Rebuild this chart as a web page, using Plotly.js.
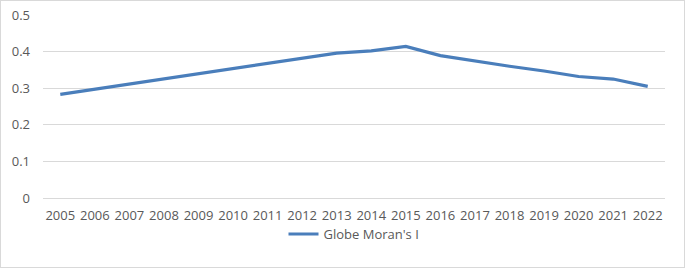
<!DOCTYPE html>
<html>
<head>
<meta charset="utf-8">
<script src="https://cdn.plot.ly/plotly-3.0.1.min.js"></script>
<style>
html,body{margin:0;padding:0;background:#fff;}
#chart{width:683px;height:266px;border:1px solid #d9d9d9;}
</style>
</head>
<body>
<div id="chart"></div>
<script>
const years = ["2005","2006","2007","2008","2009","2010","2011","2012","2013","2014","2015","2016","2017","2018","2019","2020","2021","2022"];
const moranI = [0.283,0.297,0.312,0.325,0.338,0.352,0.368,0.382,0.396,0.402,0.414,0.389,0.374,0.360,0.347,0.332,0.325,0.305];
const seriesName = "Globe Moran's I";
const yTicks = [0,0.1,0.2,0.3,0.4,0.5];

const trace = {
  x: years, y: moranI, type: 'scatter', mode: 'lines', name: seriesName,
  line: {color: '#4a7ebb', width: 3.2}
};
const layout = {
  width: 683, height: 266,
  margin: {l: 42, r: 19, t: 14, b: 69},
  paper_bgcolor: '#fff', plot_bgcolor: '#fff',
  font: {family: 'Open Sans, sans-serif', size: 13, color: '#595959'},
  showlegend: true,
  legend: {orientation: 'h', x: 0.5, xanchor: 'center', y: -0.115, yanchor: 'top', bgcolor: 'rgba(0,0,0,0)', font: {size: 13, color: '#595959'}},
  xaxis: {type: 'category', range: [-0.5, years.length - 0.5], showgrid: false, zeroline: false, showline: false, ticks: '', tickangle: 0, ticklabelstandoff: 8, fixedrange: true},
  yaxis: {range: [0, 0.5], tickvals: yTicks, ticktext: yTicks.map(v => v === 0 ? '0' : String(v)), showgrid: true, gridcolor: '#d9d9d9', gridwidth: 1, zeroline: true, zerolinecolor: '#d9d9d9', zerolinewidth: 1, showline: false, ticks: '', ticklabelstandoff: 12, fixedrange: true}
};
Plotly.newPlot('chart', [trace], layout, {displayModeBar: false, staticPlot: true});
</script>
</body>
</html>
